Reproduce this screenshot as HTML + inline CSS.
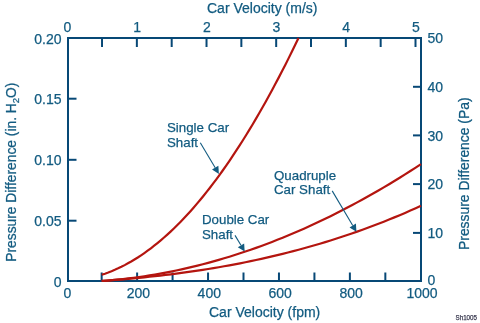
<!DOCTYPE html>
<html><head><meta charset="utf-8"><style>
html,body{margin:0;padding:0;background:#fff;width:480px;height:323px;overflow:hidden}
svg{display:block}
</style></head><body><svg width="480" height="323" viewBox="0 0 480 323"><rect x="68" y="38" width="353" height="243" fill="none" stroke="#074876" stroke-width="2"/><line x1="101.66" y1="281" x2="101.66" y2="272.5" stroke="#074876" stroke-width="2"/><line x1="137.12" y1="281" x2="137.12" y2="272.5" stroke="#074876" stroke-width="2"/><line x1="172.58" y1="281" x2="172.58" y2="272.5" stroke="#074876" stroke-width="2"/><line x1="208.04" y1="281" x2="208.04" y2="272.5" stroke="#074876" stroke-width="2"/><line x1="243.50" y1="281" x2="243.50" y2="272.5" stroke="#074876" stroke-width="2"/><line x1="278.96" y1="281" x2="278.96" y2="272.5" stroke="#074876" stroke-width="2"/><line x1="314.42" y1="281" x2="314.42" y2="272.5" stroke="#074876" stroke-width="2"/><line x1="349.88" y1="281" x2="349.88" y2="272.5" stroke="#074876" stroke-width="2"/><line x1="385.34" y1="281" x2="385.34" y2="272.5" stroke="#074876" stroke-width="2"/><line x1="102.03" y1="38" x2="102.03" y2="47" stroke="#074876" stroke-width="2"/><line x1="136.86" y1="38" x2="136.86" y2="47" stroke="#074876" stroke-width="2"/><line x1="171.69" y1="38" x2="171.69" y2="47" stroke="#074876" stroke-width="2"/><line x1="206.52" y1="38" x2="206.52" y2="47" stroke="#074876" stroke-width="2"/><line x1="241.35" y1="38" x2="241.35" y2="47" stroke="#074876" stroke-width="2"/><line x1="276.18" y1="38" x2="276.18" y2="47" stroke="#074876" stroke-width="2"/><line x1="311.01" y1="38" x2="311.01" y2="47" stroke="#074876" stroke-width="2"/><line x1="345.84" y1="38" x2="345.84" y2="47" stroke="#074876" stroke-width="2"/><line x1="380.67" y1="38" x2="380.67" y2="47" stroke="#074876" stroke-width="2"/><line x1="415.50" y1="38" x2="415.50" y2="47" stroke="#074876" stroke-width="2"/><line x1="68" y1="220.7" x2="76.5" y2="220.7" stroke="#074876" stroke-width="2"/><line x1="68" y1="159.8" x2="76.5" y2="159.8" stroke="#074876" stroke-width="2"/><line x1="68" y1="98.7" x2="76.5" y2="98.7" stroke="#074876" stroke-width="2"/><line x1="421" y1="232.9" x2="413" y2="232.9" stroke="#074876" stroke-width="2"/><line x1="421" y1="184.1" x2="413" y2="184.1" stroke="#074876" stroke-width="2"/><line x1="421" y1="135.4" x2="413" y2="135.4" stroke="#074876" stroke-width="2"/><line x1="421" y1="86.8" x2="413" y2="86.8" stroke="#074876" stroke-width="2"/><path d="M101.70,274.75 L104.98,273.67 L108.26,272.48 L111.54,271.20 L114.82,269.82 L118.10,268.35 L121.38,266.78 L124.66,265.11 L127.94,263.34 L131.22,261.48 L134.50,259.52 L137.78,257.47 L141.06,255.31 L144.34,253.06 L147.62,250.72 L150.90,248.27 L154.18,245.73 L157.46,243.09 L160.74,240.36 L164.02,237.53 L167.30,234.60 L170.58,231.57 L173.86,228.45 L177.14,225.23 L180.42,221.92 L183.70,218.50 L186.98,214.99 L190.26,211.39 L193.54,207.68 L196.82,203.88 L200.10,199.99 L203.38,195.99 L206.66,191.90 L209.94,187.71 L213.22,183.43 L216.51,179.05 L219.79,174.57 L223.07,169.99 L226.35,165.32 L229.63,160.55 L232.91,155.68 L236.19,150.72 L239.47,145.66 L242.75,140.50 L246.03,135.25 L249.31,129.90 L252.59,124.45 L255.87,118.90 L259.15,113.26 L262.43,107.52 L265.71,101.69 L268.99,95.75 L272.27,89.72 L275.55,83.60 L278.83,77.38 L282.11,71.05 L285.39,64.64 L288.67,58.12 L291.95,51.51 L295.23,44.80 L298.51,38.00" fill="none" stroke="#b4150f" stroke-width="2.2"/><path d="M101.70,280.98 L107.02,280.57 L112.34,280.11 L117.67,279.60 L122.99,279.04 L128.31,278.42 L133.63,277.75 L138.95,277.02 L144.27,276.25 L149.59,275.42 L154.92,274.54 L160.24,273.61 L165.56,272.62 L170.88,271.58 L176.20,270.49 L181.53,269.35 L186.85,268.15 L192.17,266.90 L197.49,265.60 L202.81,264.25 L208.13,262.84 L213.46,261.38 L218.78,259.87 L224.10,258.31 L229.42,256.70 L234.74,255.03 L240.06,253.31 L245.38,251.54 L250.71,249.72 L256.03,247.85 L261.35,245.92 L266.67,243.94 L271.99,241.91 L277.31,239.83 L282.64,237.70 L287.96,235.51 L293.28,233.27 L298.60,230.98 L303.92,228.64 L309.25,226.25 L314.57,223.81 L319.89,221.31 L325.21,218.76 L330.53,216.16 L335.85,213.51 L341.18,210.81 L346.50,208.06 L351.82,205.25 L357.14,202.40 L362.46,199.49 L367.78,196.53 L373.11,193.52 L378.43,190.46 L383.75,187.35 L389.07,184.19 L394.39,180.97 L399.71,177.71 L405.04,174.39 L410.36,171.03 L415.68,167.61 L421.00,164.14" fill="none" stroke="#b4150f" stroke-width="2.2"/><path d="M101.70,280.92 L107.02,280.54 L112.34,280.14 L117.67,279.72 L122.99,279.28 L128.31,278.82 L133.63,278.34 L138.95,277.83 L144.27,277.30 L149.59,276.75 L154.92,276.18 L160.24,275.58 L165.56,274.95 L170.88,274.30 L176.20,273.62 L181.53,272.92 L186.85,272.19 L192.17,271.43 L197.49,270.65 L202.81,269.83 L208.13,268.99 L213.46,268.12 L218.78,267.21 L224.10,266.28 L229.42,265.32 L234.74,264.32 L240.06,263.30 L245.38,262.24 L250.71,261.14 L256.03,260.02 L261.35,258.86 L266.67,257.66 L271.99,256.43 L277.31,255.17 L282.64,253.87 L287.96,252.53 L293.28,251.16 L298.60,249.75 L303.92,248.30 L309.25,246.81 L314.57,245.29 L319.89,243.72 L325.21,242.12 L330.53,240.47 L335.85,238.78 L341.18,237.06 L346.50,235.29 L351.82,233.47 L357.14,231.62 L362.46,229.72 L367.78,227.78 L373.11,225.79 L378.43,223.76 L383.75,221.69 L389.07,219.56 L394.39,217.39 L399.71,215.18 L405.04,212.92 L410.36,210.61 L415.68,208.25 L421.00,205.84" fill="none" stroke="#b4150f" stroke-width="2.2"/><line x1="200.3" y1="142.7" x2="215.21" y2="167.72" stroke="#125b80" stroke-width="1.1"/><polygon points="218.9,173.9 212.04,169.61 218.39,165.82" fill="#125b80"/><line x1="235" y1="235.4" x2="240.98" y2="245.33" stroke="#125b80" stroke-width="1.1"/><polygon points="244.7,251.5 237.82,247.24 244.15,243.42" fill="#125b80"/><line x1="332.2" y1="190.9" x2="352.73" y2="225.51" stroke="#125b80" stroke-width="1.1"/><polygon points="356.4,231.7 349.54,227.39 355.91,223.62" fill="#125b80"/><g font-family="Liberation Sans, Arial, sans-serif" font-size="14" fill="#125b80" stroke="#125b80" stroke-width="0.25"><text x="67.50" y="31.6" text-anchor="middle">0</text><text x="137.17" y="31.6" text-anchor="middle">1</text><text x="206.84" y="31.6" text-anchor="middle">2</text><text x="276.51" y="31.6" text-anchor="middle">3</text><text x="346.18" y="31.6" text-anchor="middle">4</text><text x="415.85" y="31.6" text-anchor="middle">5</text><text x="67.50" y="298.2" text-anchor="middle">0</text><text x="138.40" y="298.2" text-anchor="middle">200</text><text x="209.30" y="298.2" text-anchor="middle">400</text><text x="280.20" y="298.2" text-anchor="middle">600</text><text x="351.10" y="298.2" text-anchor="middle">800</text><text x="422.00" y="298.2" text-anchor="middle">1000</text><text x="61.5" y="43.6" text-anchor="end">0.20</text><text x="61.5" y="104.3" text-anchor="end">0.15</text><text x="61.5" y="165.4" text-anchor="end">0.10</text><text x="61.5" y="226.3" text-anchor="end">0.05</text><text x="61.5" y="286.6" text-anchor="end">0</text><text x="427.5" y="43.3">50</text><text x="427.5" y="92.1">40</text><text x="427.5" y="140.7">30</text><text x="427.5" y="189.4">20</text><text x="427.5" y="238.2">10</text><text x="427.5" y="285.1">0</text><text x="207" y="12.5">Car Velocity (m/s)</text><text x="209" y="316.8">Car Velocity (fpm)</text><text font-size="13.8" transform="translate(15.9,261.7) rotate(-90)">Pressure Difference (in. H<tspan font-size="9.5" dy="3">2</tspan><tspan dy="-3">O)</tspan></text><text font-size="13.9" transform="translate(469.2,250) rotate(-90)">Pressure Difference (Pa)</text><g font-size="13.3"><text x="167" y="131.9">Single Car</text><text x="167" y="146.5">Shaft</text><text x="202" y="224.2">Double Car</text><text x="202" y="239">Shaft</text><text x="274" y="179.8">Quadruple</text><text x="274" y="194">Car Shaft</text></g><text x="455.5" y="320" font-size="7" stroke="#3a3a50" stroke-width="0.25" fill="#3a3a50" textLength="21.5" lengthAdjust="spacingAndGlyphs">Sh1005</text></g></svg></body></html>
